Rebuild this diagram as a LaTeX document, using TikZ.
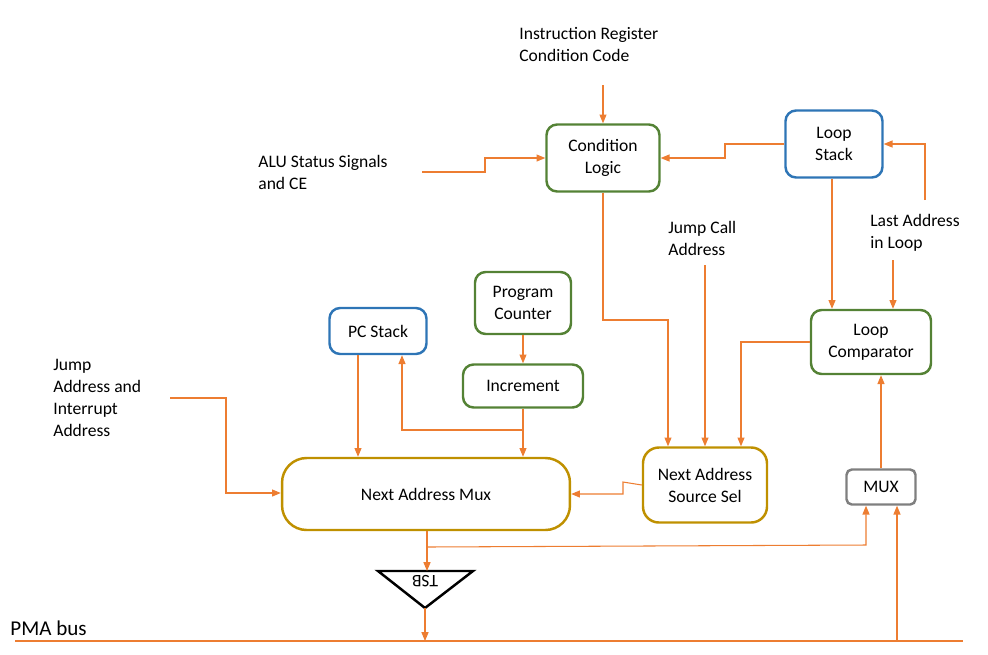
\documentclass[tikz,border=0pt]{standalone}
\usepackage{fontspec}
\setmainfont{Carlito}
\usetikzlibrary{positioning, arrows.meta}

\definecolor{boxgreen}{RGB}{84,130,53}
\definecolor{boxblue}{RGB}{46,117,182}
\definecolor{boxgold}{RGB}{191,144,0}
\definecolor{boxgrey}{RGB}{127,127,127}
\definecolor{wire}{RGB}{237,125,49}

\tikzset{
  box/.style={draw, line width=1.4pt, rounded corners=6pt, align=center, inner sep=2pt},
  greenbox/.style={box, draw=boxgreen},
  bluebox/.style={box, draw=boxblue},
  goldbox/.style={box, draw=boxgold},
  greybox/.style={box, draw=boxgrey, rounded corners=3pt},
  arr/.style={draw=wire, line width=0.6pt, -{Triangle[length=5pt, width=4pt]}},
  line/.style={draw=wire, line width=0.6pt},
  lbl/.style={align=left, anchor=west, inner sep=0pt}
}

\begin{document}
\begin{tikzpicture}[x=0.02cm, y=-0.02cm, font=\fontsize{10}{12.5}\selectfont]
    \useasboundingbox (0,0) rectangle (988,654);

    % Boxes
    \node[greenbox, minimum width=2.26cm, minimum height=1.34cm] (cl) at (603,158) {Condition\\Logic};
    \node[bluebox, minimum width=1.94cm, minimum height=1.34cm] (ls) at (834,144) {Loop\\Stack};
    \node[greenbox, minimum width=2.4cm, minimum height=1.28cm] (lc) at (871,342) {Loop\\Comparator};
    \node[greenbox, minimum width=1.92cm, minimum height=1.24cm] (pc) at (523,303) {Program\\Counter};
    \node[bluebox, minimum width=1.94cm, minimum height=0.92cm] (pcs) at (378,331) {PC Stack};
    \node[greenbox, minimum width=2.4cm, minimum height=0.86cm] (inc) at (523,386) {Increment};
    \node[goldbox, rounded corners=14pt, minimum width=5.76cm, minimum height=1.44cm] (nam) at (426,494) {Next Address Mux};
    \node[goldbox, rounded corners=9pt, minimum width=2.48cm, minimum height=1.5cm] (ss) at (705,485) {Next Address\\Source Sel};
    \node[greybox, minimum width=1.38cm, minimum height=0.7cm] (mux) at (881,487) {MUX};

    % TSB
    \draw[line width=1.4pt] (378,571) -- (473,571) -- (425,608) -- cycle;
    \node[rotate=180] (tsb) at (425,581) {TSB};
    \coordinate (tsbtop) at (425,571);
    \coordinate (tsbtip) at (425,608);

    % Labels
    \node[lbl] (ir) at (519,44) {Instruction Register\\Condition Code};
    \node[lbl] (alu) at (258,172) {ALU Status Signals\\and CE};
    \node[lbl] (jc) at (668,238) {Jump Call\\Address};
    \node[lbl] (la) at (870,233) {Last Address\\in Loop};
    \node[lbl] (ja) at (53,398) {Jump\\Address and\\Interrupt\\Address};
    \node[lbl, font=\fontsize{12}{14}\selectfont] (pma) at (10,628) {PMA bus};

    % Free ends
    \coordinate (irend) at (603,85);
    \coordinate (aluend) at (422,172);
    \coordinate (jcend) at (705,265);
    \coordinate (laend) at (925,200);
    \coordinate (laend2) at (893,260);
    \coordinate (jaend) at (170,398);
    \coordinate (busl) at (15,641);
    \coordinate (busr) at (963,641);
    \coordinate (busm) at (897,641);
    \coordinate (tsbout) at (425,641);
    \coordinate (split) at (427,547);

    % PMA bus
    \draw[line] (busl) -- (busr);

    % Connectors
    \draw[arr] (irend) -- (cl.north);
    \draw[arr] (aluend) -- (485,172) |- (cl.west);
    \draw[arr] (ls.west) -- (725,144) |- (cl.east);
    \draw[arr] (laend) |- (ls.east);
    \draw[arr] (ls.south -| 832,0) -- (lc.north -| 832,0);
    \draw[arr] (laend2) -- (lc.north -| laend2);
    \draw[arr] (cl.south) |- (668,320) -- (ss.north -| 668,0);
    \draw[arr] (jcend) -- (ss.north -| jcend);
    \draw[arr] (lc.west) -| (ss.north -| 741,0);
    \draw[arr] (pc.south) -- (inc.north);
    \draw[arr] (inc.south) -- (nam.north -| inc.south);
    \draw[arr] (523,430) -| (pcs.south -| 402,0);
    \draw[arr] (pcs.south -| 358,0) -- (nam.north -| 358,0);
    \draw[arr] (jaend) -| (226,493) -- (nam.west |- 0,493);
    \draw[arr] (ss.west) -- (623,482) |- (nam.east);
    \draw[arr] (nam.south -| split) -- (split |- tsbtop);
    \draw[arr] (split) -- (866,545) -- (mux.south -| 866,0);
    \draw[arr] (tsbtip) -- (tsbout);
    \draw[arr] (busm) -- (mux.south -| busm);
    \draw[arr] (mux.north) -- (lc.south -| mux.north);
\end{tikzpicture}
\end{document}
